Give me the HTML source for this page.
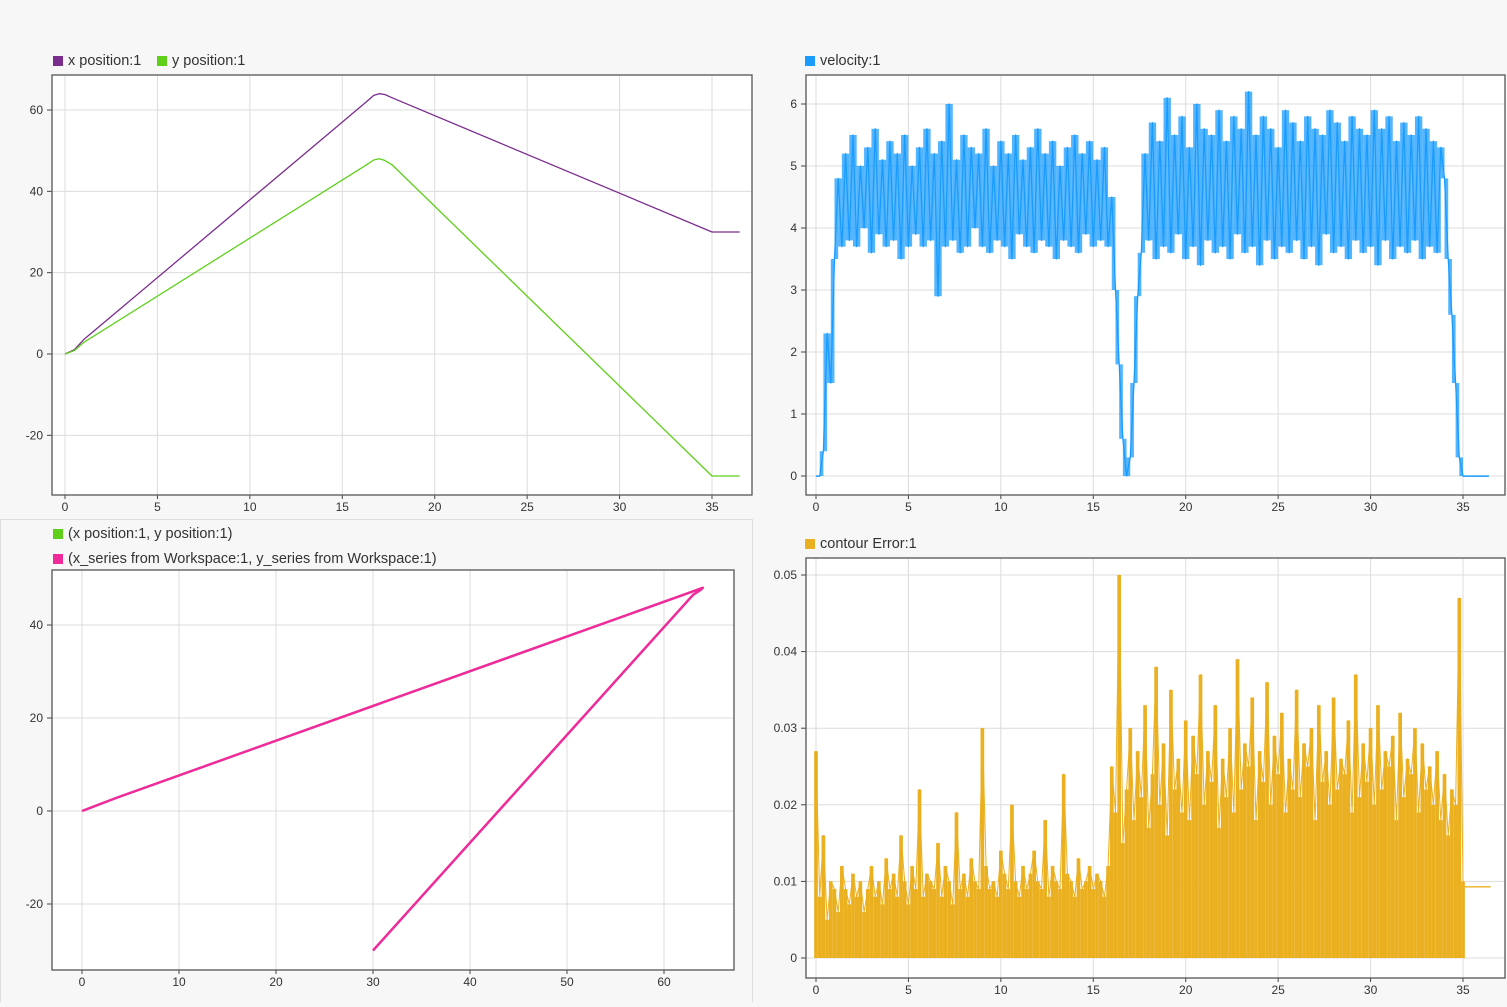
<!DOCTYPE html>
<html><head><meta charset="utf-8">
<style>
body{margin:0;background:#f7f7f7;font-family:"Liberation Sans",sans-serif;}
svg text{font-family:"Liberation Sans",sans-serif;fill:#333;}
</style></head>
<body>
<svg id="s" width="1507" height="1002" xmlns="http://www.w3.org/2000/svg">
<rect x="0.5" y="519.5" width="752" height="490" fill="none" stroke="#ddd"/>
</svg>
<script>
const posTime=[0,0.5,1,16.3,16.7,17,17.3,17.7,35,36.5];
const xPos=[0,1,3.5,62,63.6,64,63.8,63,30,30];
const yPos=[0,0.8,2.8,46.5,47.7,48,47.6,46.5,-30,-30];
const velocity=[0,0,0.4,2.3,1.5,3.5,4.8,3.7,
5.2,3.8,5.5,3.7,5.0,4.0,5.3,3.6,5.6,3.9,5.1,3.7,5.4,3.8,5.2,3.5,5.5,3.7,5.0,3.9,
5.3,3.7,5.6,3.8,5.2,2.9,5.4,3.7,6.0,3.8,5.1,3.6,5.5,3.7,5.3,4.0,5.2,3.7,5.6,3.6,
5.0,3.8,5.4,3.7,5.2,3.5,5.5,3.9,5.1,3.7,5.3,3.6,5.6,3.8,5.2,3.7,5.4,3.5,5.0,3.8,
5.3,3.7,5.5,3.6,5.2,3.9,5.4,3.7,5.1,3.8,5.3,3.7,
4.5,3.0,1.8,0.6,0,0.3,1.5,2.9,3.6,5.2,
3.8,5.7,3.5,5.4,3.7,6.1,3.6,5.5,3.9,5.8,3.5,5.3,3.7,6.0,3.4,5.6,3.8,5.5,3.6,5.9,
3.7,5.4,3.5,5.8,3.9,5.6,3.6,6.2,3.7,5.5,3.4,5.8,3.8,5.6,3.5,5.3,3.7,5.9,3.6,5.7,
3.8,5.4,3.5,5.8,3.7,5.6,3.4,5.5,3.9,5.9,3.6,5.7,3.7,5.4,3.5,5.8,3.8,5.6,3.6,5.5,
3.7,5.9,3.4,5.6,3.8,5.8,3.5,5.4,3.7,5.7,3.6,5.5,3.8,5.8,3.5,5.6,3.7,5.4,3.6,5.3,
4.8,3.5,2.6,1.5,0.3,0,0,0,0,0,0,0,0];
const velStep=0.2;
const errMilli=[27,8,16,5,10,9,6,12,9,7,11,8,10,6,9,12,8,10,7,13,
9,11,8,16,10,7,12,9,22,8,11,10,9,15,8,12,10,7,19,9,
11,8,13,10,9,30,12,9,10,8,14,11,9,20,10,8,12,9,11,14,
10,9,18,8,12,10,9,24,11,10,8,13,9,10,12,9,11,10,8,12,
25,19,50,15,22,30,18,27,21,33,17,24,38,20,28,16,35,22,26,19,
31,18,29,24,37,20,27,23,33,17,26,21,30,19,39,22,28,25,34,18,
27,23,36,20,29,24,32,19,26,22,35,21,28,25,30,18,33,23,27,20,
34,22,26,24,31,19,37,21,28,23,30,20,33,22,27,25,29,18,32,21,
26,24,30,19,28,22,25,20,27,18,24,16,22,20,47,10];
const errStep=0.2;
const errTail=[0.0093,0.0093];
const errTailTime=[35,36.5];
const tTicks=[0,5,10,15,20,25,30,35];
const posTicks=[-20,0,20,40,60];
const velTicks=[0,1,2,3,4,5,6];
const errTicks=[0,0.01,0.02,0.03,0.04,0.05];
const xyXTicks=[0,10,20,30,40,50,60];
const xyYTicks=[-20,0,20,40];

const NS="http://www.w3.org/2000/svg";
const svg=document.getElementById('s');
function mk(tag,attrs,parent){const e=document.createElementNS(NS,tag);for(const k in attrs)e.setAttribute(k,attrs[k]);(parent||svg).appendChild(e);return e;}
function lin(d0,d1,r0,r1){return v=>r0+(v-d0)/(d1-d0)*(r1-r0);}

function axes(name,x0,y0,x1,y1,sx,sy,xt,yt,fmt){
  const g=mk('g',{});
  
  
  const bg=mk('rect',{x:x0,y:y0,width:x1-x0,height:y1-y0,fill:'#fff'},g);
  
  
  xt.forEach(v=>{const x=sx(v);
    mk('line',{x1:x,x2:x,y1:y0,y2:y1,stroke:'#dcdcdc'},g);
    mk('line',{x1:x,x2:x,y1:y1,y2:y1+4,stroke:'#444'},g);
    const t=mk('text',{x:x,y:y1+16,'text-anchor':'middle','font-size':12},g);t.textContent=v;
    
    });
  yt.forEach(v=>{const y=sy(v);
    mk('line',{x1:x0,x2:x1,y1:y,y2:y,stroke:'#dcdcdc'},g);
    mk('line',{x1:x0-5,x2:x0,y1:y,y2:y,stroke:'#444'},g);
    const t=mk('text',{x:x0-9,y:y+4,'text-anchor':'end','font-size':12},g);t.textContent=fmt?fmt(v):v;
    
    });
  return g;
}
function frame(g,x0,y0,x1,y1){mk('rect',{x:x0,y:y0,width:x1-x0,height:y1-y0,fill:'none',stroke:'#555','stroke-width':1.3},g);}
function legend(x,y,color,label){
  const r=mk('rect',{x:x,y:y-9,width:10,height:10,fill:color});
  
  
  const t=mk('text',{x:x+15,y:y,'font-size':14.5});t.textContent=label;
  
  
}
function path(g,pts,color,w,name){
  const p=mk('polyline',{points:pts.map(p=>p[0].toFixed(1)+','+p[1].toFixed(1)).join(' '),fill:'none',stroke:color,'stroke-width':w,'stroke-linejoin':'round'},g);
  
  
}

// Top-left: positions
{const sx=lin(0,35,65,712),sy=lin(0,60,354,110);
 const g=axes('position-chart',52,75,752,495,sx,sy,tTicks,posTicks);
 path(g,posTime.map((t,i)=>[sx(t),sy(xPos[i])]),'#7b2d8e',1.3,'x-position-line');
 path(g,posTime.map((t,i)=>[sx(t),sy(yPos[i])]),'#5ed01a',1.3,'y-position-line');
 frame(g,52,75,752,495);
 legend(53,65,'#7b2d8e','x position:1');legend(157,65,'#5ed01a','y position:1');}

// Top-right: velocity
{const sx=lin(0,35,816,1463),sy=lin(0,6,476,104);
 const g=axes('velocity-chart',806,75,1505,495,sx,sy,tTicks,velTicks);
 for(let i=0;i<velocity.length-1;i++){
   const a=velocity[i],b=velocity[i+1];
   const r=mk('rect',{x:sx(i*velStep),y:sy(Math.max(a,b)),width:sx(velStep)-sx(0),height:Math.max(1,sy(Math.min(a,b))-sy(Math.max(a,b))),fill:'#1a9cff','fill-opacity':0.75},g);
   
   
 }
 path(g,velocity.map((v,i)=>[sx(i*velStep),sy(v)]),'#1a9cff',1.3,'velocity-line');
 frame(g,806,75,1505,495);
 legend(805,65,'#1a9cff','velocity:1');}

// Bottom-left: XY
{const sx=lin(0,60,82,664),sy=lin(0,40,811,625);
 const g=axes('xy-chart',52,570,734,970,sx,sy,xyXTicks,xyYTicks);
 path(g,posTime.map((t,i)=>[sx(xPos[i]),sy(yPos[i])]),'#5ed01a',2,'xy-position-line');
 path(g,posTime.map((t,i)=>[sx(xPos[i]),sy(yPos[i])]),'#ef2a9a',2.5,'xy-workspace-line');
 frame(g,52,570,734,970);
 legend(53,538,'#5ed01a','(x position:1, y position:1)');
 legend(53,563,'#ef2a9a','(x_series from Workspace:1, y_series from Workspace:1)');}

// Bottom-right: contour error
{const sx=lin(0,35,816,1463),sy=lin(0,0.05,958,575);
 const g=axes('error-chart',806,558,1505,978,sx,sy,tTicks,errTicks,v=>v===0?'0':v.toFixed(2));
 const w=sx(errStep)-sx(0);
 errMilli.forEach((m,i)=>{const v=m/1000;const x=sx(i*errStep);
   const r=mk('rect',{x:x-w/2,y:sy(v),width:w,height:sy(0)-sy(v),fill:'#ebb020'},g);
   
   });
 path(g,errMilli.map((m,i)=>[sx(i*errStep),sy(m/1000)]),'#ebb020',1,'error-line');
 path(g,errTailTime.map((t,i)=>[sx(t),sy(errTail[i])]),'#ebb020',1.3,'error-tail');
 frame(g,806,558,1505,978);
 legend(805,548,'#ebb020','contour Error:1');}
</script>
</body></html>
